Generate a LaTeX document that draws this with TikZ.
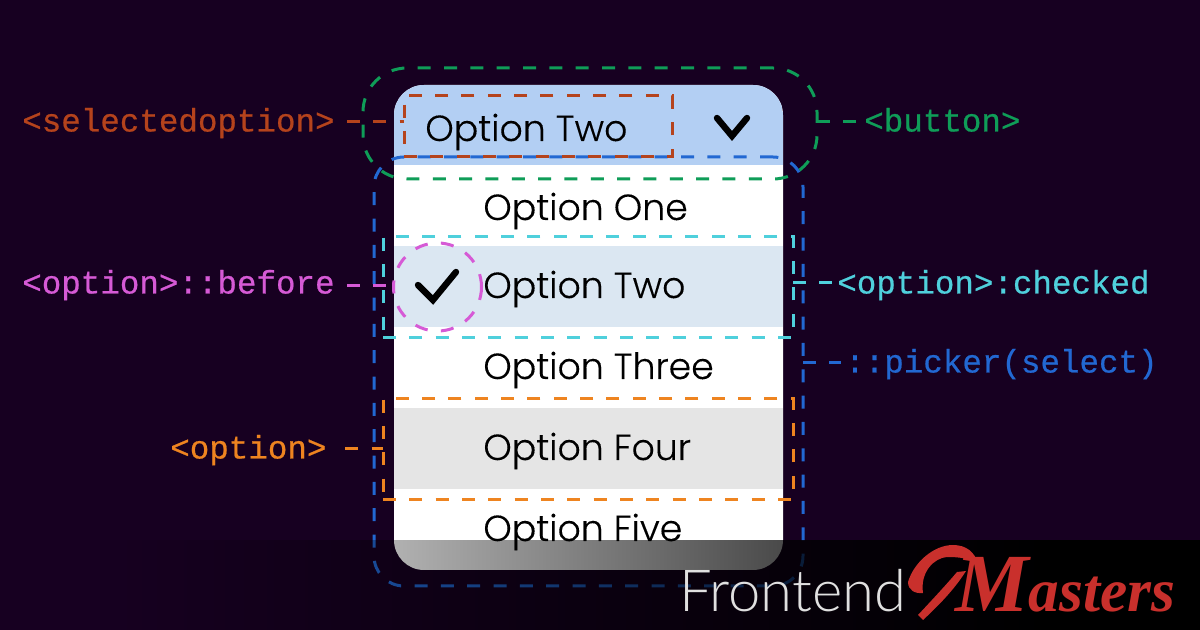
\documentclass[tikz,border=0pt]{standalone}
\usepackage{fontspec}
\usetikzlibrary{fadings}
\setmainfont[UprightFont={* Light},FakeBold=0.2]{Poppins}
\newfontfamily\labelfont[FakeBold=0.6]{Liberation Mono}
\newfontfamily\thinfont[UprightFont={* Light}]{Lato}
\newfontfamily\logofont[BoldItalicFont={Liberation Serif Bold Italic}]{Liberation Serif}
\definecolor{bgdark}{HTML}{170021}
\definecolor{btnblue}{HTML}{B3CFF3}
\definecolor{rowblue}{HTML}{DBE7F2}
\definecolor{rowgrey}{HTML}{E5E5E5}
\definecolor{cselected}{HTML}{B5431C}
\definecolor{cbutton}{HTML}{0F9D58}
\definecolor{cpicker}{HTML}{2268D2}
\definecolor{cchecked}{HTML}{4FD0DC}
\definecolor{coption}{HTML}{EE8420}
\definecolor{cbefore}{HTML}{D65AD6}
\definecolor{logored}{HTML}{C9302C}
\tikzfading[name=footfade, left color=transparent!100, right color=transparent!0]
\tikzset{
  dashline/.style={line width=2.25pt, dash pattern=on 9.75pt off 10pt},
  outline/.style={draw, dashline, inner sep=0pt, outer sep=0pt},
  lbl/.style={font=\labelfont\fontsize{24.4}{28}\selectfont, inner sep=0pt, anchor=base west},
  opt/.style={font=\fontsize{27.2}{32}\selectfont, inner sep=0pt, anchor=base west, text=black},
  tick/.style={line width=4.8pt, line cap=round, line join=miter, black}
}
\begin{document}
\begin{tikzpicture}[x=0.75pt, y=-0.75pt]
  \useasboundingbox (0,0) rectangle (1200,630);
  \fill[bgdark] (0,0) rectangle (1200,630);

  \fill[white, rounded corners=22.5pt] (394,85) rectangle (783,570);
  \begin{scope}
    \clip[rounded corners=22.5pt] (394,85) rectangle (783,300);
    \fill[btnblue] (394,85) rectangle (783,165);
  \end{scope}
  \fill[rowblue] (394,246) rectangle (783,327);
  \fill[rowgrey] (394,408) rectangle (783,489);

  \draw
  (425,141) node[opt](opt0) {Option Two}
  (483,220) node[opt](opt1) {Option One}
  (483,298) node[opt](opt2) {Option Two}
  (483,379) node[opt](opt3) {Option Three}
  (483,460) node[opt](opt4) {Option Four}
  (483,541) node[opt](opt5) {Option Five};

  \draw[tick] (717,118)--(732,136)--(747,118);
  \draw[tick] (418,285)--(433,300)--(456,272);

  \draw
  (588.5,371.5) node[outline, cpicker, rounded corners=22.5pt, minimum width=321.75pt, minimum height=321.75pt](boxpicker) {}
  (590,123.5) node[outline, cbutton, rounded corners=33pt, minimum width=340.5pt, minimum height=83.25pt](boxbutton) {}
  (538,126.5) node[outline, cselected, minimum width=201pt, minimum height=45.75pt](boxselected) {}
  (588,287.5) node[outline, cchecked, minimum width=307.5pt, minimum height=75.75pt](boxchecked) {}
  (588,449.5) node[outline, coption, minimum width=307.5pt, minimum height=75.75pt](boxoption) {}
  (437.5,287) node[outline, cbefore, circle, minimum size=66pt](circbefore) {};

  \draw
  (22,131.5) node[lbl, cselected](lblselected) {<selectedoption>}
  (864,131.5) node[lbl, cbutton](lblbutton) {<button>}
  (22,293.5) node[lbl, cbefore](lblbefore) {<option>::before}
  (837,293.5) node[lbl, cchecked](lblchecked) {<option>:checked}
  (845,372.5) node[lbl, cpicker](lblpicker) {::picker(select)}
  (170,458.5) node[lbl, coption](lbloption) {<option>};

  \draw[dashline, cselected] ([xshift=9pt]lblselected.east |- 0,122) -- (boxselected.west |- 0,122);
  \draw[dashline, cbutton] (boxbutton.east |- 0,122) -- ([xshift=-3pt]lblbutton.west |- 0,122);
  \draw[dashline, cbefore] ([xshift=9pt]lblbefore.east |- 0,286) -- (circbefore.west |- 0,286);
  \draw[dashline, cchecked] (boxchecked.east |- 0,283) -- ([xshift=-3pt]lblchecked.west |- 0,283);
  \draw[dashline, cpicker] (boxpicker.east |- 0,363) -- ([xshift=-3pt]lblpicker.west |- 0,363);
  \draw[dashline, coption] ([xshift=14pt]lbloption.east |- 0,449) -- (boxoption.west |- 0,449);

  \fill[black, path fading=footfade] (100,540) rectangle (1060,630);
  \fill[black] (1060,540) rectangle (1200,630);

  \draw
  (679,612) node[inner sep=0pt, anchor=base west, text=white!88!black, font=\thinfont\fontsize{43.5}{48}\selectfont](logofront) {Frontend}
  (955,612) node[inner sep=0pt, anchor=base west, text=logored, font=\logofont\bfseries\itshape\fontsize{46}{52}\selectfont](logomasters) {{\fontsize{62}{62}\selectfont M}asters};

  \fill[logored] (908,582) .. controls (914,562) and (934,545) .. (953,545)
    .. controls (966,545) and (975,552) .. (978,564)
    .. controls (970,558) and (958,557) .. (947,557)
    .. controls (934,558) and (920,572) .. (923,593)
    .. controls (915,594) and (908,590) .. (908,582) -- cycle;
  \fill[logored] (966,571) .. controls (954,590) and (938,606) .. (923,620)
    -- (918,615) .. controls (932,600) and (946,585) .. (957,572) -- cycle;
\end{tikzpicture}
\end{document}
